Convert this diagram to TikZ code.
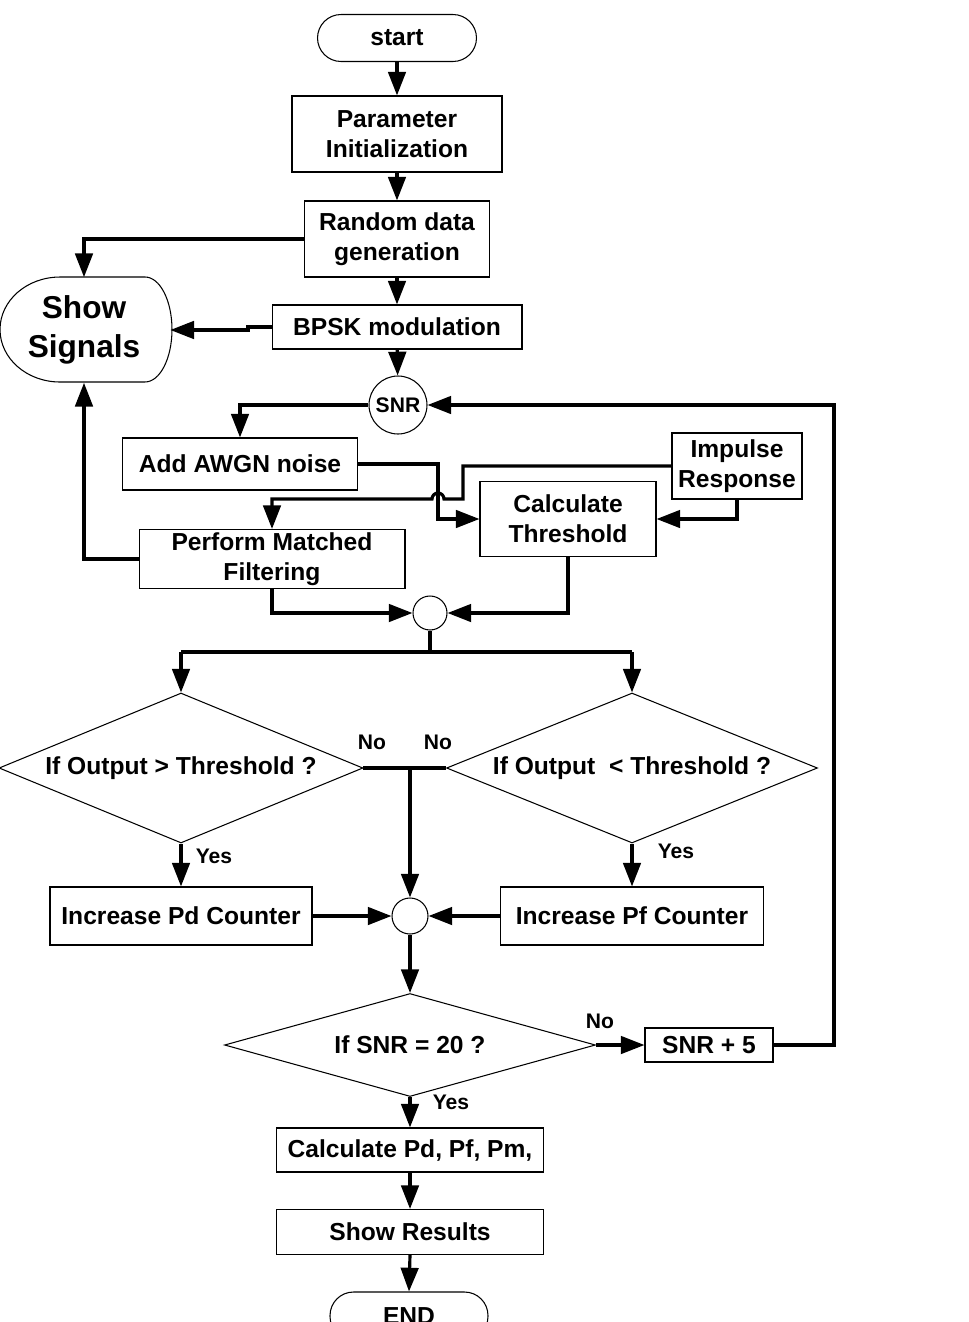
\documentclass[tikz,border=0pt]{standalone}
\usepackage{fontspec}
\setmainfont{Liberation Sans}
\usepackage{tikz}
\usetikzlibrary{arrows.meta}
\usetikzlibrary{shapes.geometric}
\usetikzlibrary{positioning}
\tikzset{
    box/.style={draw=black, line width=0.6pt, rectangle, inner sep=1pt, align=center,
        font=\bfseries\fontsize{14}{17}\selectfont},
    term/.style={box, rounded corners=0.47cm},
    test/.style={draw=black, line width=0.6pt, diamond, inner sep=0pt,
        font=\bfseries\fontsize{14}{17}\selectfont},
    junction/.style={draw=black, line width=0.6pt, circle, inner sep=0pt},
    lbl/.style={font=\bfseries\fontsize{12}{14}\selectfont, inner sep=0pt},
}
\tikzstyle{line} = [draw, line width=1.8pt, -{Triangle[length=13.5pt,width=10pt]}]
\tikzstyle{wire} = [draw, line width=1.8pt]

\begin{document}
\begin{tikzpicture}[x=0.02cm, y=-0.02cm]
	\useasboundingbox (0,0) rectangle (968,1322);
	% top chain
	\node[term, minimum width=3.18cm, minimum height=0.94cm] (start) at (397,38) {start};
	\node[box, minimum width=4.2cm, minimum height=1.52cm] (param) at (397,134) {Parameter\\Initialization};
	\node[box, minimum width=3.7cm, minimum height=1.52cm] (rnd) at (397,239) {Random data\\generation};
	\node[box, minimum width=5.0cm, minimum height=0.88cm] (bpsk) at (397,327) {BPSK modulation};
	\node[junction, minimum size=1.16cm, font=\bfseries\fontsize{12}{14}\selectfont] (snr) at (398,405) {SNR};
	% display
	\node[minimum width=3.44cm, minimum height=2.1cm, inner sep=0pt, align=center,
		font=\bfseries\fontsize{18}{22}\selectfont] (sig) at (84,330) {Show\\Signals};
	\draw[line width=0.6pt] (60,277) -- (145,277)
		arc[start angle=90, end angle=-90, x radius=0.54cm, y radius=1.05cm]
		-- (60,382)
		arc[start angle=270, end angle=90, x radius=1.2cm, y radius=1.05cm] -- cycle;
	% processing
	\node[box, minimum width=4.7cm, minimum height=1.04cm] (awgn) at (240,464) {Add AWGN noise};
	\node[box, minimum width=2.6cm, minimum height=1.32cm] (imp) at (737,466) {Impulse\\Response};
	\node[box, minimum width=3.52cm, minimum height=1.5cm] (thr) at (568,519) {Calculate\\Threshold};
	\node[box, minimum width=5.32cm, minimum height=1.18cm] (pmf) at (272,559) {Perform Matched\\Filtering};
	\node[junction, minimum size=0.68cm] (j1) at (430,613) {};
	% decisions
	\node[test, minimum width=7.28cm, minimum height=3.0cm, aspect=2.4] (d1) at (181,768) {If Output > Threshold ?};
	\node[test, minimum width=7.42cm, minimum height=3.0cm, aspect=2.4] (d2) at (632,768) {If Output\ \ < Threshold ?};
	\node[box, minimum width=5.24cm, minimum height=1.16cm] (pd) at (181,916) {Increase Pd Counter};
	\node[box, minimum width=5.26cm, minimum height=1.16cm] (pf) at (632,916) {Increase Pf Counter};
	\node[junction, minimum size=0.72cm] (j2) at (410,916) {};
	\node[test, minimum width=7.42cm, minimum height=2.06cm, aspect=3.6] (d3) at (410,1045) {If SNR = 20 ?};
	\node[box, minimum width=2.56cm, minimum height=0.68cm] (inc) at (709,1045) {SNR + 5};
	\node[box, minimum width=5.34cm, minimum height=0.88cm] (calc) at (410,1150) {Calculate Pd, Pf, Pm,};
	\node[box, minimum width=5.34cm, minimum height=0.9cm] (res) at (410,1232) {Show Results};
	\node[term, minimum width=3.16cm, minimum height=0.96cm] (end) at (409,1316) {END};
	% labels
	\node[lbl] (no1) at (372,742) {No};
	\node[lbl] (no2) at (438,742) {No};
	\node[lbl] (yes1) at (214,856) {Yes};
	\node[lbl] (yes2) at (676,851) {Yes};
	\node[lbl] (no3) at (600,1021) {No};
	\node[lbl] (yes3) at (451,1102) {Yes};
	% helper points
	\coordinate (split) at (430,652);
	\coordinate (splitL) at (181,652);
	\coordinate (splitR) at (632,652);
	\coordinate (mid) at (410,768);
	\coordinate (loop) at (834,1045);
	\coordinate (bend) at (463,499);
	\coordinate (jog) at (248,327);
	% connectors
	\draw[line] (start) -- (param);
	\draw[line] (param) -- (rnd);
	\draw[line] (rnd) -- (bpsk);
	\draw[line] (bpsk) -- (snr);
	\draw[line] (rnd.west) -| (sig.north);
	\draw[line] (bpsk.west) -- (jog) |- (sig.east);
	\draw[line] (snr.west) -| (awgn.north);
	\draw[line] (awgn.east) -- (438,464) |- (thr.west);
	\draw[line] (imp.west) -| (bend) -- (444,499)
		arc[start angle=0, end angle=180, radius=0.12cm] -| (pmf.north);
	\draw[line] (imp.south) |- (thr.east);
	\draw[line] (thr.south) |- (j1.east);
	\draw[line] (pmf.south) |- (j1.west);
	\draw[line] (pmf.west) -| (sig.south);
	\draw[wire] (j1.south) -- (split);
	\draw[wire] (splitL) -- (splitR);
	\draw[line] (splitL) -- (d1.north);
	\draw[line] (splitR) -- (d2.north);
	\draw[wire] (d1.east) -- (d2.west);
	\draw[line] (mid) -- (j2.north);
	\draw[line] (d1.south) -- (pd.north);
	\draw[line] (d2.south) -- (pf.north);
	\draw[line] (pd.east) -- (j2.west);
	\draw[line] (pf.west) -- (j2.east);
	\draw[line] (j2.south) -- (d3.north);
	\draw[line] (d3.east) -- (inc.west);
	\draw[line] (inc.east) -- (loop) |- (snr.east);
	\draw[line] (d3.south) -- (calc.north);
	\draw[line] (calc.south) -- (res.north);
	\draw[line] (res.south) -- (end.north);
\end{tikzpicture}
\end{document}
